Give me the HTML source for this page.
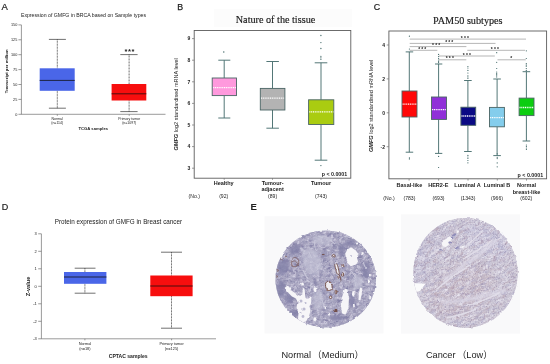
<!DOCTYPE html>
<html>
<head>
<meta charset="utf-8">
<title>GMFG expression in breast cancer</title>
<style>
html,body{margin:0;padding:0;background:#fff;}
body{width:550px;height:364px;overflow:hidden;}
svg{display:block;}
text{font-family:"Liberation Sans",sans-serif;fill:#222;}
.ser{font-family:"Liberation Serif",serif;}
.b{font-weight:bold;}
.m{text-anchor:middle;}
.e{text-anchor:end;}
.ax{stroke:#707070;stroke-width:0.7;fill:none;}
.wh{stroke:#333;stroke-width:0.7;fill:none;}
.dash{stroke:#333;stroke-width:0.8;stroke-dasharray:0.9 0.6;fill:none;}
.bx{stroke:#4a6464;stroke-width:0.9;}
.wk{stroke:#4a7070;stroke-width:0.95;fill:none;}
.md{stroke:#fff;stroke-width:1.3;stroke-dasharray:1.1 0.7;fill:none;}
.sg{stroke:#858585;stroke-width:0.6;fill:none;}
.o{fill:#3f6666;}
</style>
</head>
<body>
<svg width="550" height="364" viewBox="0 0 550 364">
<rect width="550" height="364" fill="#fff"/>

<!-- ================= Panel A ================= -->
<g id="panelA">
<text x="1.5" y="9.5" font-size="9.5" stroke="#222" stroke-width="0.2">A</text>
<text x="83.5" y="17" font-size="5.2" class="m" fill="#333">Expression of GMFG in BRCA based on Sample types</text>
<!-- axes -->
<path class="ax" d="M21.4 24.9V114.3M18.4 24.9H21.4M18.4 39.8H21.4M18.4 54.7H21.4M18.4 69.6H21.4M18.4 84.5H21.4M18.4 99.4H21.4"/>
<path class="ax" d="M18.4 114.3H165.5M57.3 114.3v1.5M129.2 114.3v1.5" stroke-width="0.8"/>
<g font-size="3.8" class="e" fill="#666">
<text x="17.3" y="26.3">150</text><text x="17.3" y="41.2">125</text><text x="17.3" y="56.1">100</text><text x="17.3" y="71">75</text><text x="17.3" y="85.9">50</text><text x="17.3" y="100.8">25</text><text x="17.3" y="115.7">0</text>
</g>
<text transform="translate(8.1 71.3) rotate(-90)" font-size="4.3" class="m b">Transcript per million</text>
<!-- blue box -->
<path class="dash" d="M57.3 39.4V68.3M57.3 90.8V108.2"/>
<path class="wh" d="M48.9 39.4H65.9M48.9 108.2H65.9"/>
<rect x="39.7" y="68.3" width="35" height="22.5" fill="#4a66e8"/>
<path d="M39.7 80.4H74.7" stroke="#1c2340" stroke-width="1"/>
<!-- red box -->
<path class="dash" d="M129.1 54.6V84M129.1 100.4V111.6"/>
<path class="wh" d="M120.3 54.6H137.6M120.3 111.6H137.6"/>
<rect x="111.6" y="84" width="34.7" height="16.5" fill="#f70e0e"/>
<path d="M111.6 93.8H146.3" stroke="#4a0d0d" stroke-width="1"/>
<text x="129.7" y="54.2" font-size="7.6" class="m b" letter-spacing="0.5">***</text>
<g font-size="3.5" class="m" fill="#888">
<text x="57.2" y="119.7">Normal</text><text x="57.2" y="123.9">(n=114)</text>
<text x="129.2" y="119.7">Primary tumor</text><text x="129.2" y="123.9">(n=1097)</text>
</g>
<text x="93.3" y="130.1" font-size="4.2" class="m b">TCGA samples</text>
</g>

<!-- ================= Panel B ================= -->
<g id="panelB">
<text x="177.2" y="9.9" font-size="8.8" stroke="#222" stroke-width="0.25">B</text>
<rect x="214" y="9" width="138" height="18" fill="#fcfcfc"/>
<text x="275.5" y="22.8" font-size="10.2" class="m ser" fill="#111" stroke="#111" stroke-width="0.15">Nature of the tissue</text>
<rect x="194.2" y="30.5" width="156.6" height="147.7" fill="#fff" stroke="#5c5c5c" stroke-width="0.9"/>
<path class="ax" d="M192 38.6h2.2M192 60.2h2.2M192 81.8h2.2M192 103.4h2.2M192 125h2.2M192 146.6h2.2M192 168.2h2.2M224.2 178.2v1.6M272.5 178.2v1.6M321 178.2v1.6"/>
<g font-size="5" class="e b" fill="#222">
<text x="190.2" y="40.4">9</text><text x="190.2" y="62">8</text><text x="190.2" y="83.6">7</text><text x="190.2" y="105.2">6</text><text x="190.2" y="126.8">5</text><text x="190.2" y="148.4">4</text><text x="190.2" y="170">3</text>
</g>
<text transform="translate(177.9 104.3) rotate(-90) scale(1.11 1)" font-size="5" class="m"><tspan font-weight="bold" font-style="italic">GMFG</tspan> log2 standardised mRNA level</text>
<!-- pink -->
<path class="wk" d="M224.2 60.2V78M224.2 95.8V118M218.3 60.2H230.3M218.3 118H230.3"/>
<rect class="bx" x="212.2" y="78" width="24.3" height="17.6" fill="#ff99dd"/>
<path class="md" d="M213.2 87.6H236"/>
<circle class="o" cx="223.8" cy="52" r="0.7"/>
<!-- gray -->
<path class="wk" d="M272.5 61.5V88.4M272.5 110V128.2M266.4 61.5H278.9M266.4 128.2H278.9"/>
<rect class="bx" x="260.3" y="88.4" width="24.6" height="21.6" fill="#b3b3b3"/>
<path class="md" d="M261 98.2H284.5"/>
<!-- green -->
<path class="wk" d="M321 62.8V99.8M321 124.5V160.2M314.7 62.8H327.3M314.7 160.2H327.3"/>
<rect class="bx" x="308.6" y="99.8" width="25.2" height="24.7" fill="#aacc11"/>
<path class="md" d="M309.3 111.8H333.4"/>
<g class="o">
<circle cx="320.9" cy="35.5" r="0.65"/><circle cx="320.9" cy="42.6" r="0.65"/><circle cx="320.9" cy="48.5" r="0.65"/><circle cx="320.9" cy="56.3" r="0.65"/><circle cx="320.9" cy="57.8" r="0.65"/><circle cx="320.9" cy="59.3" r="0.65"/><circle cx="320.9" cy="165.6" r="0.65"/>
</g>
<text x="347.2" y="175.9" font-size="5.3" class="e b">p &lt; 0.0001</text>
<g font-size="5.5" class="m b">
<text x="223.7" y="185.3">Healthy</text><text x="272.6" y="185.3">Tumour-</text><text x="272.6" y="191.3">adjacent</text><text x="321" y="185.3">Tumour</text>
</g>
<g font-size="5.1" class="m" fill="#333">
<text x="194.2" y="197.6">(No.)</text><text x="223.7" y="197.6">(92)</text><text x="272.6" y="197.6">(89)</text><text x="321" y="197.6">(743)</text>
</g>
</g>

<!-- ================= Panel C ================= -->
<g id="panelC">
<text x="373.7" y="10" font-size="8.9" stroke="#222" stroke-width="0.2">C</text>
<text x="467.8" y="24.4" font-size="10.2" class="m ser" fill="#111" stroke="#111" stroke-width="0.15">PAM50 subtypes</text>
<rect x="388.9" y="31" width="157.7" height="147.8" fill="#fff" stroke="#5c5c5c" stroke-width="0.9"/>
<path class="ax" d="M386.7 45h2.2M386.7 78.9h2.2M386.7 112.8h2.2M386.7 146.7h2.2M409.1 179v1.6M438.6 179v1.6M468 179v1.6M497.3 179v1.6M526.5 179v1.6"/>
<g font-size="5" class="e b" fill="#222">
<text x="385" y="46.8">4</text><text x="385" y="80.7">2</text><text x="385" y="114.6">0</text><text x="385" y="148.5">-2</text>
</g>
<text transform="translate(372.8 105.8) rotate(-90) scale(1.11 1)" font-size="5" class="m"><tspan font-weight="bold" font-style="italic">GMFG</tspan> log2 standardised mRNA level</text>
<!-- significance -->
<path class="sg" d="M409.7 39.1H526M409.7 43.4H495.5M409.7 46.6H466.4M409.7 50.3H437.3M467.3 50.3H525M438.8 56H494.8M438.8 59.8H466.3M497.5 59.8H525.8"/>
<g font-size="5" class="m b" fill="#333" letter-spacing="1.15">
<text x="465.5" y="39.8">***</text><text x="449.8" y="43.8">***</text><text x="436.7" y="47.3">***</text><text x="422.8" y="50.8">***</text><text x="495.5" y="50.8">***</text><text x="467.5" y="56.5">***</text><text x="450.4" y="60.3">***</text><text x="511.9" y="60.3">*</text>
</g>
<!-- red -->
<path class="wk" d="M409.3 51.9V91M409.3 117V152.2M405.7 51.9H413.2M405.7 152.2H413.2"/>
<rect class="bx" x="402" y="91" width="15" height="26" fill="#ff0808"/>
<path class="md" d="M402.6 104.2H416.6"/>
<!-- purple -->
<path class="wk" d="M438.6 64V97M438.6 119.4V153.4M435 64H442.3M435 153.4H442.3"/>
<rect class="bx" x="431.5" y="97" width="15" height="22.4" fill="#9030d8"/>
<path class="md" d="M432.1 109.6H446.1"/>
<!-- navy -->
<path class="wk" d="M467.9 80.5V107.2M467.9 125.3V151.5M464.1 80.5H471.7M464.1 151.5H471.7"/>
<rect class="bx" x="460.9" y="107.2" width="14.8" height="18.1" fill="#0a0a84"/>
<path class="md" d="M461.5 116H475.3"/>
<!-- light blue -->
<path class="wk" d="M497.1 79V107.4M497.1 126.8V155.6M493.3 79H500.9M493.3 155.6H500.9"/>
<rect class="bx" x="489.5" y="107.4" width="14.9" height="19.4" fill="#84cdec"/>
<path class="md" d="M490.1 117.6H504"/>
<!-- green -->
<path class="wk" d="M526.4 71.7V98.1M526.4 115.6V141M522.6 71.7H530.2M522.6 141H530.2"/>
<rect class="bx" x="519.1" y="98.1" width="14.9" height="17.5" fill="#0ccd10"/>
<path class="md" d="M519.5 107.5H533.3"/>
<g class="o" id="outC"><circle cx="467.9" cy="155.4" r="0.6"/><circle cx="467.9" cy="157" r="0.6"/><circle cx="467.9" cy="158.5" r="0.6"/><circle cx="467.9" cy="160.5" r="0.6"/><circle cx="467.9" cy="162.8" r="0.6"/><circle cx="497.2" cy="153.8" r="0.6"/><circle cx="497.2" cy="157.3" r="0.6"/><circle cx="497.2" cy="158.6" r="0.6"/><circle cx="497.2" cy="162.9" r="0.6"/><circle cx="497.2" cy="166.8" r="0.6"/><circle cx="526.4" cy="145" r="0.6"/><circle cx="526.4" cy="146.5" r="0.6"/><circle cx="526.4" cy="148" r="0.6"/><circle cx="526.4" cy="149.5" r="0.6"/><circle cx="409.4" cy="36.2" r="0.6"/><circle cx="409.4" cy="49" r="0.6"/><circle cx="409.4" cy="157.8" r="0.6"/><circle cx="409.4" cy="158.9" r="0.6"/><circle cx="438.6" cy="54.4" r="0.6"/><circle cx="438.6" cy="56.5" r="0.6"/><circle cx="438.6" cy="58.3" r="0.6"/><circle cx="438.6" cy="60" r="0.6"/><circle cx="438.6" cy="61.6" r="0.6"/><circle cx="438.6" cy="62.7" r="0.6"/><circle cx="438.6" cy="156.4" r="0.6"/><circle cx="438.6" cy="167.5" r="0.6"/><circle cx="467.9" cy="66.5" r="0.6"/><circle cx="467.9" cy="68" r="0.6"/><circle cx="467.9" cy="70.4" r="0.6"/><circle cx="467.9" cy="73" r="0.6"/><circle cx="467.9" cy="75.8" r="0.6"/><circle cx="467.9" cy="77" r="0.6"/><circle cx="467.9" cy="78.5" r="0.6"/><circle cx="496.7" cy="52.7" r="0.6"/><circle cx="496.7" cy="62.3" r="0.6"/><circle cx="496.7" cy="68.5" r="0.6"/><circle cx="496.7" cy="72" r="0.6"/><circle cx="496.7" cy="73.3" r="0.6"/><circle cx="496.7" cy="74.6" r="0.6"/><circle cx="496.7" cy="75.8" r="0.6"/><circle cx="496.7" cy="77" r="0.6"/><circle cx="526.3" cy="50.8" r="0.6"/><circle cx="526.3" cy="58.5" r="0.6"/><circle cx="526.3" cy="63.7" r="0.6"/><circle cx="526.3" cy="65" r="0.6"/><circle cx="526.3" cy="66.2" r="0.6"/><circle cx="526.3" cy="68.5" r="0.6"/><circle cx="526.3" cy="70.4" r="0.6"/></g>
<text x="543.1" y="176.7" font-size="5.3" class="e b">p &lt; 0.0001</text>
<g font-size="5.5" class="m b">
<text x="409.4" y="187.1">Basal-like</text><text x="438.3" y="187.1">HER2-E</text><text x="467.5" y="187.1">Luminal A</text><text x="497" y="187.1">Luminal B</text><text x="526.5" y="187.1">Normal</text><text x="526.5" y="193.5">breast-like</text>
</g>
<g font-size="5.1" class="m" fill="#333">
<text x="389" y="199.5">(No.)</text><text x="409.4" y="199.5">(783)</text><text x="438.5" y="199.5">(693)</text><text x="468" y="199.5">(1343)</text><text x="497" y="199.5">(966)</text><text x="526.3" y="199.5">(602)</text>
</g>
</g>

<!-- ================= Panel D ================= -->
<g id="panelD">
<text x="1.8" y="210.3" font-size="9" stroke="#222" stroke-width="0.2">D</text>
<text x="118.4" y="224" font-size="6.32" class="m" fill="#333">Protein expression of GMFG in Breast cancer</text>
<path class="ax" d="M41.4 233.8V338.8M38.2 233.8H41.4M38.2 251.3H41.4M38.2 268.8H41.4M38.2 286.3H41.4M38.2 303.8H41.4M38.2 321.3H41.4"/>
<path class="ax" d="M38.2 338.8H216M84.9 338.8v1.5M171.6 338.8v1.5" stroke-width="0.8"/>
<g font-size="4" class="e" fill="#666">
<text x="36.8" y="235.2">3</text><text x="36.8" y="252.7">2</text><text x="36.8" y="270.2">1</text><text x="36.8" y="287.7">0</text><text x="36.8" y="305.2">-1</text><text x="36.8" y="322.7">-2</text><text x="36.8" y="340.2">-3</text>
</g>
<text transform="translate(29.9 286.5) rotate(-90)" font-size="5.6" class="m b">Z-value</text>
<!-- blue -->
<path class="dash" d="M84.9 268.2V272M84.9 283.8V293.2"/>
<path class="wh" d="M74.7 268.2H95.5M74.7 293.2H95.5"/>
<rect x="64" y="272" width="42.4" height="11.8" fill="#4a66e8"/>
<path d="M64 277H106.4" stroke="#1c2340" stroke-width="1.1"/>
<!-- red -->
<path class="dash" d="M171.5 252.2V275.5M171.5 296.2V328.2"/>
<path class="wh" d="M161 252.2H182M161 328.2H182"/>
<rect x="150.3" y="275.5" width="42.3" height="20.7" fill="#f70e0e"/>
<path d="M150.3 286H192.6" stroke="#4a0d0d" stroke-width="1.1"/>
<g font-size="3.9" class="m" fill="#888">
<text x="84.9" y="344.8">Normal</text><text x="84.9" y="349.6">(n=18)</text>
<text x="171.6" y="344.8">Primary tumor</text><text x="171.6" y="349.6">(n=125)</text>
</g>
<text x="128.2" y="357.6" font-size="5.1" class="m b">CPTAC samples</text>
</g>


<!-- ================= Panel E ================= -->
<defs>
<filter id="rough" x="-5%" y="-5%" width="110%" height="110%">
<feTurbulence type="fractalNoise" baseFrequency="0.2" numOctaves="2" seed="7" result="n"/>
<feDisplacementMap in="SourceGraphic" in2="n" scale="2.6" xChannelSelector="R" yChannelSelector="G"/>
</filter>
<filter id="texN" x="0" y="0" width="100%" height="100%" color-interpolation-filters="sRGB">
<feTurbulence type="fractalNoise" baseFrequency="0.22 0.3" numOctaves="3" seed="11" result="n"/>
<feColorMatrix in="n" type="matrix" values="0 0 0 0 0.52  0 0 0 0 0.51  0 0 0 0 0.66  2.4 0 0 0 -0.95"/>
</filter>
<filter id="texN2" x="0" y="0" width="100%" height="100%" color-interpolation-filters="sRGB">
<feTurbulence type="fractalNoise" baseFrequency="0.3 0.36" numOctaves="3" seed="29" result="n"/>
<feColorMatrix in="n" type="matrix" values="0 0 0 0 0.82  0 0 0 0 0.81  0 0 0 0 0.88  0 2.6 0 0 -1.15"/>
</filter>
<filter id="texC" x="0" y="0" width="100%" height="100%" color-interpolation-filters="sRGB">
<feTurbulence type="fractalNoise" baseFrequency="0.16 0.42" numOctaves="3" seed="5" result="n"/>
<feColorMatrix in="n" type="matrix" values="0 0 0 0 0.71  0 0 0 0 0.62  0 0 0 0 0.68  2.0 0 0 0 -0.9"/>
</filter>
<filter id="texC2" x="0" y="0" width="100%" height="100%" color-interpolation-filters="sRGB">
<feTurbulence type="fractalNoise" baseFrequency="0.14 0.4" numOctaves="3" seed="17" result="n"/>
<feColorMatrix in="n" type="matrix" values="0 0 0 0 0.67  0 0 0 0 0.66  0 0 0 0 0.79  0 2.0 0 0 -0.92"/>
</filter>
<filter id="texC3" x="0" y="0" width="100%" height="100%" color-interpolation-filters="sRGB">
<feTurbulence type="fractalNoise" baseFrequency="0.12 0.36" numOctaves="3" seed="41" result="n"/>
<feColorMatrix in="n" type="matrix" values="0 0 0 0 0.91  0 0 0 0 0.90  0 0 0 0 0.94  0 0 2.4 0 -1.05"/>
</filter>
<filter id="texG" x="0" y="0" width="100%" height="100%" color-interpolation-filters="sRGB">
<feTurbulence type="fractalNoise" baseFrequency="0.75" numOctaves="2" seed="3" result="n"/>
<feColorMatrix in="n" type="matrix" values="0 0 0 0 0.58  0 0 0 0 0.53  0 0 0 0 0.66  0 0 1.5 0 -0.68"/>
</filter>
<filter id="texW" x="0" y="0" width="100%" height="100%" color-interpolation-filters="sRGB">
<feTurbulence type="fractalNoise" baseFrequency="0.6" numOctaves="2" seed="9" result="n"/>
<feColorMatrix in="n" type="matrix" values="0 0 0 0 0.93  0 0 0 0 0.92  0 0 0 0 0.95  0 1.6 0 0 -0.75"/>
</filter>
<filter id="soft" x="-5%" y="-5%" width="110%" height="110%"><feGaussianBlur stdDeviation="0.35"/></filter>
<filter id="bl" x="-20%" y="-20%" width="140%" height="140%"><feGaussianBlur stdDeviation="0.6"/></filter>
<filter id="bl3" x="-30%" y="-30%" width="160%" height="160%"><feGaussianBlur stdDeviation="5"/></filter>
<filter id="bl2" x="-20%" y="-20%" width="140%" height="140%"><feGaussianBlur stdDeviation="1.2"/></filter>
<clipPath id="cpN"><ellipse cx="325.75" cy="279" rx="50.3" ry="48.5"/></clipPath>
<clipPath id="cpC"><ellipse cx="465.5" cy="272.9" rx="52.2" ry="54.9"/></clipPath>
</defs>
<g id="panelE">
<text x="250.5" y="210.3" font-size="9.6" class="b">E</text>
<rect x="264.5" y="216.2" width="119" height="117.3" fill="#f9f9fa"/>
<rect x="401" y="214.3" width="119" height="119.3" fill="#f9f9fa"/>
<!-- normal tissue -->
<g filter="url(#soft)">
<g filter="url(#rough)">
<g clip-path="url(#cpN)">
<rect x="270" y="225" width="112" height="108" fill="#adabc4"/>
<rect x="270" y="225" width="112" height="108" filter="url(#texN)"/>
<rect x="270" y="225" width="112" height="108" filter="url(#texN2)"/>
<rect x="270" y="225" width="112" height="108" filter="url(#texG)" opacity="0.7"/>
<g fill="#8381a8" filter="url(#bl2)" opacity="0.8">
<ellipse cx="289.500" cy="298.500" rx="5" ry="6"/><ellipse cx="281" cy="289" rx="4.500" ry="9"/><ellipse cx="342" cy="250" rx="4" ry="6"/><ellipse cx="350" cy="243" rx="6" ry="3"/><ellipse cx="324" cy="254" rx="2" ry="2.500"/><ellipse cx="294" cy="313" rx="6" ry="3.500"/><ellipse cx="283" cy="267" rx="6" ry="8"/><ellipse cx="295" cy="250" rx="7" ry="4" transform="rotate(-40 295 250)"/><ellipse cx="352" cy="300" rx="3" ry="8"/><ellipse cx="338" cy="318" rx="8" ry="3"/><ellipse cx="366" cy="270" rx="4" ry="9"/>
</g>
<g fill="#c3c2d6" filter="url(#bl2)" opacity="0.7">
<ellipse cx="312" cy="262" rx="9" ry="14" transform="rotate(-20 312 262)"/><ellipse cx="322" cy="240" rx="10" ry="5"/><ellipse cx="318" cy="300" rx="5" ry="10"/><ellipse cx="358" cy="282" rx="5" ry="7"/>
</g>
<g stroke="#c9c8da" stroke-width="1.1" fill="none" filter="url(#bl)" opacity="0.9">
<path d="M314 242l1.5 8M309 252l3 7M320 262l-3 9M303 270l4 8M312 283l-2 8M322 300l3 9M352 272l4 6M363 262l3 7M356 282l-1 7M318 236l6 2M300 248l5 3M330 240l5 4M345 236l6 2"/>
</g>
<g id="holesN" fill="#f6f5f8" filter="url(#bl)">
<path d="M351 247.2l4.6 3.1 2.6 3.5-1.2 4 1 3.8-1.8 3-5.4 1.6-2.8-2.6-1.9-5.8-.9-4.4 2.1-3.6z"/>
<path d="M356 243l1.6-.6.6 1.6-1.6.8z"/><path d="M361.5 252.5l1.8-.4.4 2.2-1.8.6z"/><path d="M369 274l1.6 0 .2 2-1.6.4z"/><path d="M364 240.5l1.5.3-.2 1.6-1.6-.2z"/>
<path d="M286.500 285.500L289 286.500 291.500 290.500 295 293 299 295.500 302 296 303 288 304.500 288.500 305.500 298 308 299 310 297.500 311.500 298.500 311 303.500 309.500 306 310.500 311 309 316 306 321.500 301 322.500 298 319 298.500 313 296.500 308 297.500 302 296 298.500 292 296.500 288.500 293 286 289Z"/>
<path d="M301.6 282.6l2 .2.4 2.2-2 .6-1-1.6z"/>
<ellipse cx="315" cy="289.600" rx="1.500" ry="2.300"/>
<ellipse cx="314.900" cy="319.200" rx="1.500" ry="1.900"/><path d="M328 312.6l1.8.2.2 2.6-1.8.2z"/><path d="M325 306.6l1.6 0 .2 2.4-1.6.2z"/>
<path d="M345 288.2l2.4 1.6 1.6 8.4-.6 10-3 6.6-3.2-1.2-1.4-7.4 1.2-10.2z"/>
<path d="M360.2 287.6l1.8.6-.2 6-1.6 6.4-1.8-.8.4-6.6z"/>
<path d="M367.8 279.4l1.8.2 0 2.6-1.8.2z"/><path d="M369.4 296l1.6.2-.2 3-1.6 0z"/><path d="M352.5 291l1.8.2.4 3.6-1.6 2.4-1.2-2.6z"/><path d="M353 304l1.6 0 .2 3-1.6.4z"/>
</g>
<g fill="#aeacc8" filter="url(#bl)" opacity="0.8">
<circle cx="301" cy="301" r="1.5"/><circle cx="304" cy="309" r="1.600"/><circle cx="306.500" cy="303" r="1.100"/><circle cx="303" cy="316.500" r="1.400"/><circle cx="300.500" cy="312" r="1"/><circle cx="351" cy="256" r="1"/>
</g>
<g id="ductsN" fill="#efecf1" stroke="#6b4238" stroke-width="0.8">
<ellipse cx="333.6" cy="256" rx="1.5" ry="1.4"/>
<path d="M335.4 263.4c1.4-.6 2.4 2.6 3 5.4s1.4 5.4.2 5.8-2.2-2.400-2.800-5.200-1.600-5.400-.400-6z"/>
<ellipse cx="342.6" cy="265.4" rx="1" ry="1.3"/>
<ellipse cx="342.6" cy="275" rx="1.1" ry="1.2"/>
<ellipse cx="338.2" cy="277.4" rx="0.9" ry="0.9"/>
<ellipse cx="328.8" cy="285.9" rx="3.2" ry="4.6" transform="rotate(-12 328.8 285.9)"/>
<ellipse cx="335.9" cy="292" rx="0.8" ry="2.1"/>
<ellipse cx="330.6" cy="297.3" rx="1.2" ry="1.3"/>
<path d="M339 274.500l1.200 2.400.800 3.700" fill="none"/>
</g>
<g fill="none" stroke="#75524f" stroke-width="0.8" opacity="0.85">
<ellipse cx="295" cy="262.2" rx="3.8" ry="4.6"/><path d="M292 262c1.500-1.500 3-1.500 4.500 0s1 3-.5 3.500"/>
</g>
<g fill="#6b4238" filter="url(#bl)" opacity="0.85">
<circle cx="335.9" cy="310.200" r="1.400"/><circle cx="281.400" cy="259" r="1"/><circle cx="277.600" cy="270.500" r="1"/><circle cx="276.800" cy="276.500" r="0.900"/><circle cx="323.800" cy="254.500" r="0.800"/><circle cx="286" cy="256.500" r="0.700"/><circle cx="274.500" cy="281" r="0.800"/>
</g>
</g>
</g>
</g>
<!-- cancer tissue -->
<g filter="url(#soft)">
<g filter="url(#rough)">
<g clip-path="url(#cpC)">
<rect x="408" y="214" width="116" height="118" fill="#ccc8d5"/>
<g filter="url(#bl3)">
<ellipse cx="462" cy="290" rx="34" ry="26" fill="#c6b7c1" opacity="0.7" transform="rotate(-30 462 290)"/>
<ellipse cx="486" cy="240" rx="26" ry="14" fill="#cbc9de" opacity="0.8" transform="rotate(25 486 240)"/>
<ellipse cx="420" cy="262" rx="9" ry="26" fill="#bdbbd4" opacity="0.7"/>
<ellipse cx="440" cy="236" rx="14" ry="8" fill="#bab7d0" opacity="0.6" transform="rotate(-40 440 236)"/>
</g>
<g transform="rotate(-33 466 272)">
<rect x="392" y="198" width="150" height="150" filter="url(#texC)"/>
<rect x="392" y="198" width="150" height="150" filter="url(#texC2)"/>
<rect x="392" y="198" width="150" height="150" filter="url(#texC3)"/>
</g>
<rect x="408" y="214" width="116" height="118" filter="url(#texG)"/>
<rect x="408" y="214" width="116" height="118" filter="url(#texW)"/>
<g stroke="#dbd8e6" stroke-width="4" fill="none" filter="url(#bl2)" opacity="0.75">
<path d="M444 280C460 268 478 256 497 240"/><path d="M442 303C462 301 484 297 506 290"/>
</g>
<g stroke="#e2dfea" stroke-width="1.6" fill="none" filter="url(#bl)" opacity="0.9">
<path d="M462 259.500C472 254 483 247 492 241"/>
<path d="M462 248C470 243 477 237 483 230"/>
<path d="M465 306C478 303 490 298 500 292.500"/>
<path d="M436 290C446 281 458 272 470 266"/>
<path d="M428 258C434 252 440 248 446 246"/>
<path d="M446 318C456 316 466 314 476 309"/>
</g>
<g fill="#f6f5f8" filter="url(#bl)">
<path d="M443 240.500l3.400-1.800 2.600-2.200 2.600 1.200-.8 2.800-2.200 1.800.4 2.400-3.200 2.200-3.200-.6-1-2.800z"/>
<path d="M456.500 231l1.800-.8.800 1.600-1.800 1.400z"/>
<path d="M461 246.500l2-.6.400 1.600-2 .8z"/>
</g>
<g fill="#8a87b6" filter="url(#bl)" opacity="0.9">
<ellipse cx="454.500" cy="234.800" rx="2" ry="1.100" transform="rotate(-30 454.500 234.800)"/>
<ellipse cx="449.800" cy="242.600" rx="1.500" ry="1"/>
<ellipse cx="457.800" cy="248" rx="2.200" ry="1" transform="rotate(-30 457.800 248)"/>
<ellipse cx="440.500" cy="249.600" rx="1.300" ry="0.900"/>
<ellipse cx="452" cy="238.500" rx="1.200" ry="0.800"/>
</g>
<path d="M409 282.600l16.600 1.200-5.800 7.400-10.800 2z" fill="#fbfbfc"/>
</g>
</g>
</g>
<text x="281.4" y="357.5" font-size="9.2" style="font-family:'Liberation Sans','Noto Sans CJK SC',sans-serif" fill="#111">Normal<tspan dx="1.6">（Medium）</tspan></text>
<text x="425.9" y="357.5" font-size="9.2" style="font-family:'Liberation Sans','Noto Sans CJK SC',sans-serif" fill="#111">Cancer<tspan dx="1.6">（Low）</tspan></text>
</g>

</svg>
</body>
</html>
